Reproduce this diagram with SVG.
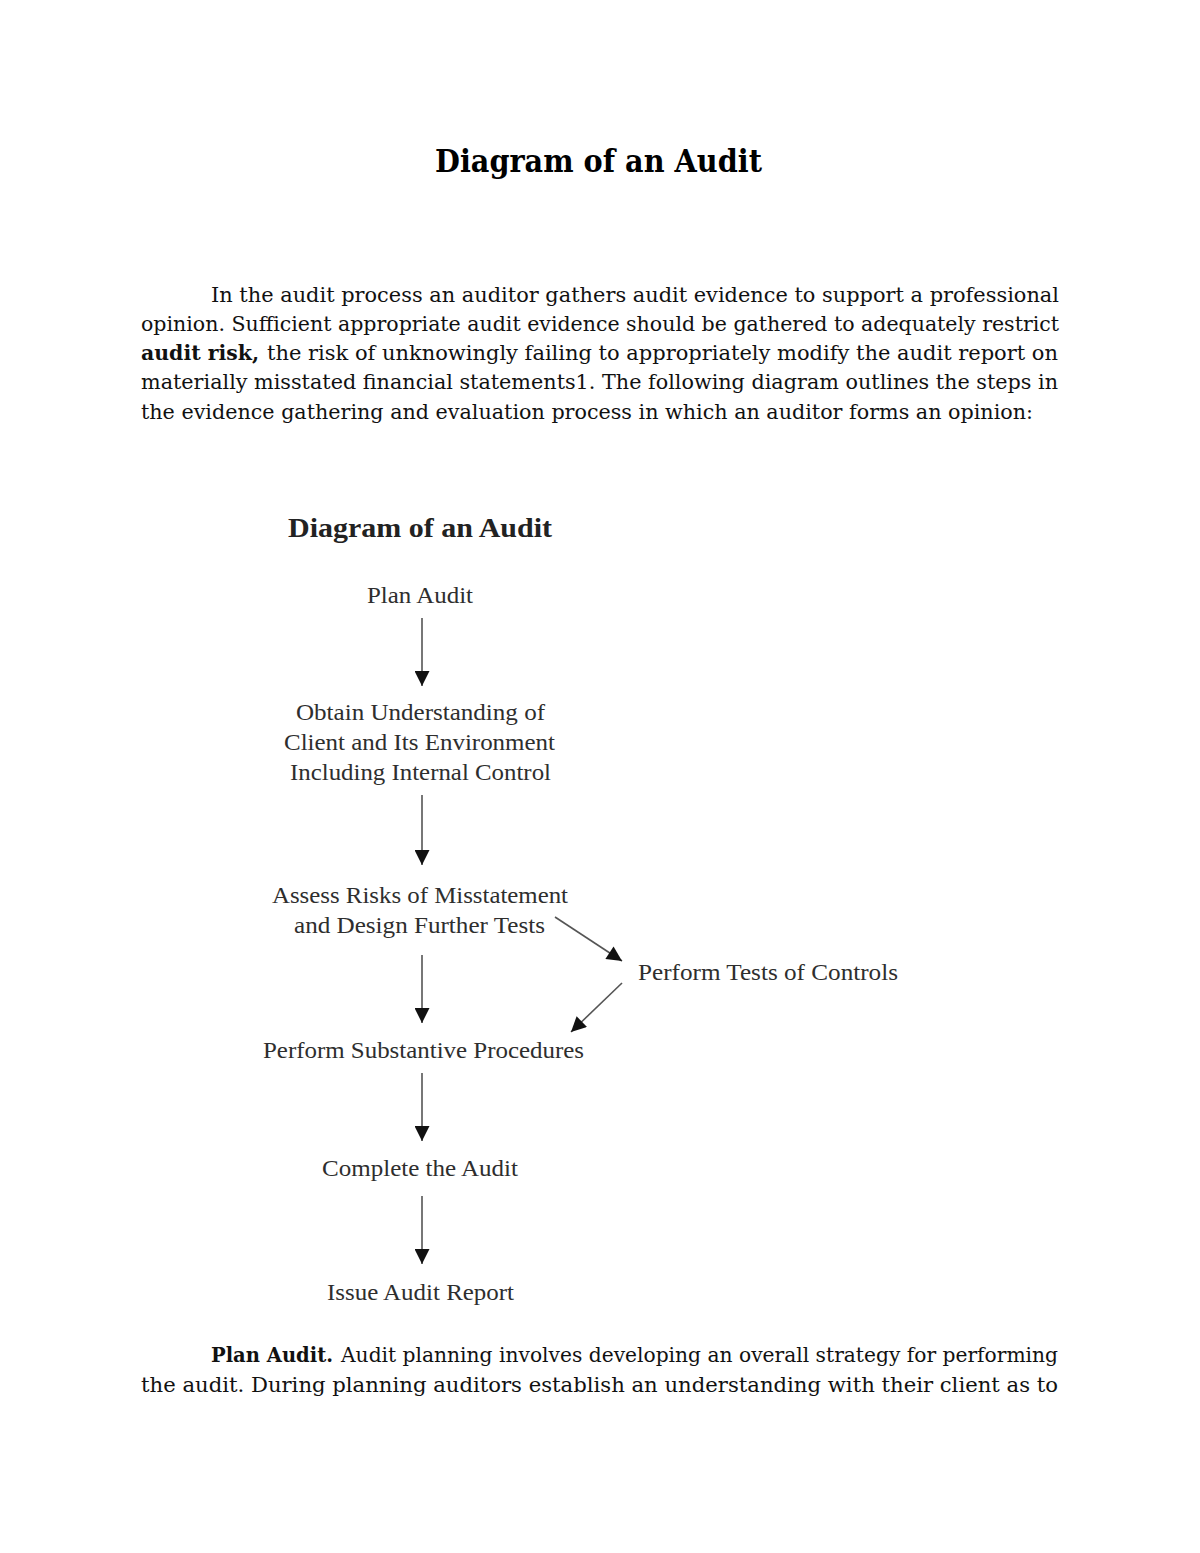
<svg xmlns="http://www.w3.org/2000/svg" width="1200" height="1553" viewBox="0 0 1200 1553">
<style>
.body{font-family:"DejaVu Serif","Liberation Serif",serif;font-size:20.5px;fill:#111;}
.b{font-weight:bold;}
.pt{font-family:"DejaVu Serif","Liberation Serif",serif;font-size:31px;font-weight:bold;fill:#000;}
.lbl{font-family:"Liberation Serif","Times New Roman",serif;font-size:24px;fill:#2e2e2e;}
.dt{font-family:"Liberation Serif","Times New Roman",serif;font-size:28px;font-weight:bold;fill:#222;}
.conn line{stroke:#555;stroke-width:1.6;}
</style>
<defs>
<marker id="ah" viewBox="0 0 10 10" refX="10" refY="5" markerWidth="18" markerHeight="15" markerUnits="userSpaceOnUse" orient="auto">
<path d="M0,0 L10,5 L0,10 Z" fill="#111"/>
</marker>
</defs>
<rect width="1200" height="1553" fill="#fff"/>
<g id="page-title"><text class="pt" x="435" y="172" textLength="327" lengthAdjust="spacingAndGlyphs">Diagram of an Audit</text></g>
<g id="intro">
<text class="body" x="211" y="302" textLength="848" lengthAdjust="spacingAndGlyphs">In the audit process an auditor gathers audit evidence to support a professional</text>
<text class="body" x="141" y="331" textLength="918" lengthAdjust="spacingAndGlyphs">opinion. Sufficient appropriate audit evidence should be gathered to adequately restrict</text>
<text class="body b" x="141" y="360" textLength="118" lengthAdjust="spacingAndGlyphs">audit risk,</text>
<text class="body" x="267" y="360" textLength="791" lengthAdjust="spacingAndGlyphs">the risk of unknowingly failing to appropriately modify the audit report on</text>
<text class="body" x="141" y="389" textLength="917" lengthAdjust="spacingAndGlyphs">materially misstated financial statements1. The following diagram outlines the steps in</text>
<text class="body" x="141" y="419" textLength="892" lengthAdjust="spacingAndGlyphs">the evidence gathering and evaluation process in which an auditor forms an opinion:</text>
</g>
<g id="diagram-title"><text class="dt" x="288" y="537" textLength="264" lengthAdjust="spacingAndGlyphs">Diagram of an Audit</text></g>
<g id="n-plan"><text class="lbl" x="367" y="603" textLength="106" lengthAdjust="spacingAndGlyphs">Plan Audit</text></g>
<g id="n-obtain">
<text class="lbl" x="296" y="720" textLength="249" lengthAdjust="spacingAndGlyphs">Obtain Understanding of</text>
<text class="lbl" x="284" y="750" textLength="271" lengthAdjust="spacingAndGlyphs">Client and Its Environment</text>
<text class="lbl" x="290" y="780" textLength="261" lengthAdjust="spacingAndGlyphs">Including Internal Control</text>
</g>
<g id="n-assess">
<text class="lbl" x="272" y="903" textLength="296" lengthAdjust="spacingAndGlyphs">Assess Risks of Misstatement</text>
<text class="lbl" x="294" y="933" textLength="251" lengthAdjust="spacingAndGlyphs">and Design Further Tests</text>
</g>
<g id="n-controls"><text class="lbl" x="638" y="980" textLength="260" lengthAdjust="spacingAndGlyphs">Perform Tests of Controls</text></g>
<g id="n-substantive"><text class="lbl" x="263" y="1058" textLength="321" lengthAdjust="spacingAndGlyphs">Perform Substantive Procedures</text></g>
<g id="n-complete"><text class="lbl" x="322" y="1176" textLength="196" lengthAdjust="spacingAndGlyphs">Complete the Audit</text></g>
<g id="n-issue"><text class="lbl" x="327" y="1300" textLength="187" lengthAdjust="spacingAndGlyphs">Issue Audit Report</text></g>
<g id="connectors" class="conn">
<line x1="422" y1="618" x2="422" y2="686" marker-end="url(#ah)"/>
<line x1="422" y1="795" x2="422" y2="865" marker-end="url(#ah)"/>
<line x1="555" y1="917" x2="622" y2="961" marker-end="url(#ah)"/>
<line x1="422" y1="955" x2="422" y2="1023" marker-end="url(#ah)"/>
<line x1="622" y1="983" x2="571" y2="1032" marker-end="url(#ah)"/>
<line x1="422" y1="1073" x2="422" y2="1141" marker-end="url(#ah)"/>
<line x1="422" y1="1196" x2="422" y2="1264" marker-end="url(#ah)"/>
</g>
<g id="plan-para">
<text class="body b" x="211" y="1362" textLength="122" lengthAdjust="spacingAndGlyphs">Plan Audit.</text>
<text class="body" x="341" y="1362" textLength="717" lengthAdjust="spacingAndGlyphs">Audit planning involves developing an overall strategy for performing</text>
<text class="body" x="141" y="1392" textLength="917" lengthAdjust="spacingAndGlyphs">the audit. During planning auditors establish an understanding with their client as to</text>
</g>
</svg>
